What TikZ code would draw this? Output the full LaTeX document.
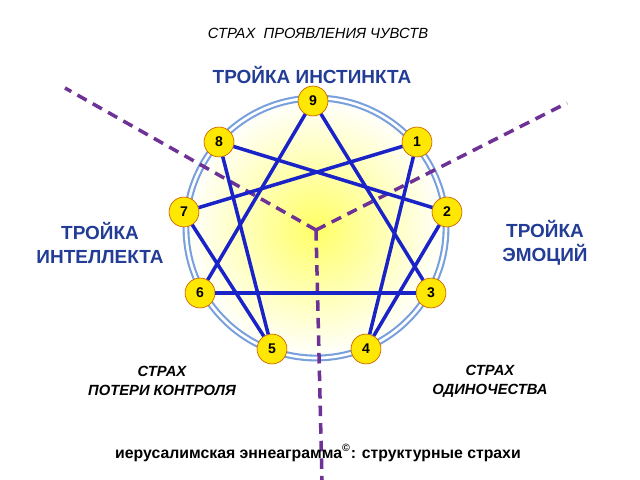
\documentclass[tikz,border=0pt]{standalone}
\usepackage{fontspec}
\setmainfont{Liberation Sans}
\usetikzlibrary{positioning}
\definecolor{ennblue}{RGB}{25,35,200}
\definecolor{labblue}{RGB}{35,60,150}
\definecolor{dashpurple}{RGB}{110,50,150}
\definecolor{ringblue}{RGB}{120,160,220}
\tikzset{
  pt/.style={circle,draw=orange!80!black,fill=yellow!90!orange,inner sep=0pt,minimum size=17pt,font=\bfseries\footnotesize},
  ln/.style={ennblue,line width=2pt},
  sep/.style={dashpurple,line width=2pt,dash pattern=on 6pt off 4pt},
  triad/.style={labblue,font=\bfseries\fontsize{10.8}{13.5}\selectfont,align=center},
  fear/.style={font=\bfseries\itshape\fontsize{8.4}{11}\selectfont,align=center}
}
\begin{document}
\begin{tikzpicture}[x=0.02cm,y=-0.02cm]
  \useasboundingbox (0,0) rectangle (640,480);
  % circle with glow
  \shade[inner color=yellow!60,outer color=white] (316,228) circle (130);
  \draw[ringblue,line width=1.2pt,double=white,double distance=1.5pt] (316,228) circle (130);
  \coordinate (c) at (316,230);
  \coordinate (a) at (65,88);
  \coordinate (b) at (567,103);
  \coordinate (d) at (322,480);
  \draw[sep] (c) -- (a);
  \draw[sep] (c) -- (b);
  \draw[sep] (c) -- (d);
  % points
  \node[pt] (p9) at (313,101) {9};
  \node[pt] (p1) at (417,142) {1};
  \node[pt] (p2) at (447,212) {2};
  \node[pt] (p3) at (431,293) {3};
  \node[pt] (p4) at (366,349) {4};
  \node[pt] (p5) at (272,349) {5};
  \node[pt] (p6) at (200,293) {6};
  \node[pt] (p7) at (184,212) {7};
  \node[pt] (p8) at (219,142) {8};
  \draw[ln] (p1) -- (p4);
  \draw[ln] (p4) -- (p2);
  \draw[ln] (p2) -- (p8);
  \draw[ln] (p8) -- (p5);
  \draw[ln] (p5) -- (p7);
  \draw[ln] (p7) -- (p1);
  \draw[ln] (p3) -- (p6);
  \draw[ln] (p6) -- (p9);
  \draw[ln] (p9) -- (p3);
  % texts
  \node[font=\itshape\fontsize{8.4}{10}\selectfont] (title) at (318,33) {СТРАХ\ \ ПРОЯВЛЕНИЯ ЧУВСТВ};
  \node[triad] (inst) at (312,75) {ТРОЙКА ИНСТИНКТА};
  \node[triad] (intel) at (100,243) {ТРОЙКА\\ИНТЕЛЛЕКТА};
  \node[triad] (emo) at (545,243) {ТРОЙКА\\ЭМОЦИЙ};
  \node[fear] (ctrl) at (162,381) {СТРАХ\\ПОТЕРИ КОНТРОЛЯ};
  \node[fear] (lone) at (490,381) {СТРАХ\\ОДИНОЧЕСТВА};
  \node[font=\bfseries\small] (cap) at (318,453) {иерусалимская эннеаграмма\textsuperscript{©}: структурные страхи};
\end{tikzpicture}
\end{document}
